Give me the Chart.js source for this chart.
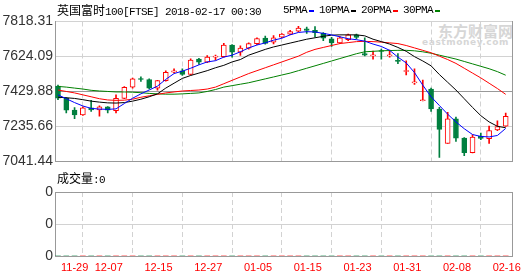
<!DOCTYPE html>
<html>
<head>
<meta charset="utf-8">
<script src="https://cdn.jsdelivr.net/npm/chart.js@4.4.1/dist/chart.umd.min.js"></script>
<style>
  body { margin: 0; background: #fff; }
  #wrap { position: relative; width: 530px; height: 276px; overflow: hidden; font-family: "Noto Sans CJK SC", sans-serif; color: #000; }
  canvas { position: absolute; left: 0; }
  #main { top: 0; }
  #vol { top: 180px; }
  .txt { position: absolute; font-size: 12px; line-height: 14px; white-space: nowrap; }
  .mono { font-family: "Liberation Mono", monospace; font-size: 11px; letter-spacing: -0.6px; }
  .key { position: absolute; top: 10px; width: 5px; height: 2px; }
  #wm1 { position: absolute; left: 438px; top: 20px; font-size: 15px; font-weight: bold; color: #d6d6d6; }
  #wm2 { position: absolute; left: 422px; top: 37px; font: bold 9px "DejaVu Sans", sans-serif; color: #d6d6d6; letter-spacing: 0.6px; }
</style>
</head>
<body>
<div id="wrap">
  <div id="wm1">东方财富网</div>
  <div id="wm2">eastmoney.com</div>
  <canvas id="main" width="530" height="172"></canvas>
  <canvas id="vol" width="530" height="96"></canvas>
  <div class="txt" style="left:57px;top:3px">英国富时<span class="mono">100[FTSE] 2018-02-17 00:30</span></div>
  <div id="legend"></div>
  <div class="txt" style="left:57px;top:171px">成交量<span class="mono">:0</span></div>
</div>
<script>
// trading days shown on the chart
const dates = ["11-29","11-30","12-01","12-04","12-05","12-06","12-07","12-08","12-11","12-12",
  "12-13","12-14","12-15","12-18","12-19","12-20","12-21","12-22","12-27","12-28",
  "12-29","01-02","01-03","01-04","01-05","01-08","01-09","01-10","01-11","01-12",
  "01-15","01-16","01-17","01-18","01-19","01-22","01-23","01-24","01-25","01-26",
  "01-29","01-30","01-31","02-01","02-02","02-05","02-06","02-07","02-08","02-09",
  "02-12","02-13","02-14","02-15","02-16"];

const opens = [7460,7393.6,7326.7,7300.5,7339,7327.5,7345,7324,7392,7453.5,
  7502,7496.5,7448.1,7490.6,7537,7544.1,7525.2,7610,7592.7,7620.7,
  7622.9,7687.8,7648.1,7671.1,7695.9,7726,7703,7731,7748.5,7765,
  7778,7769,7753,7722,7700,7718,7744,7640,7628,7656,
  7628,7603,7541,7478,7379,7444,7333,7142,7279,7172,
  7091,7183,7169,7217,7238];
const highs = [7466,7396,7341,7345,7381,7351,7347,7412,7458,7505,
  7512,7500,7492,7545,7556,7556,7612,7614,7630,7632,
  7697,7690,7684,7700,7728,7738,7740,7752,7770,7792,
  7787,7790,7757,7730,7735,7748,7748,7728,7654,7665,
  7660,7640,7600,7556,7494,7449,7342,7315,7288,7175,
  7190,7199,7238,7267,7310];
const lows = [7385,7312,7280,7297,7320,7293,7312,7312,7390,7448,
  7486,7444,7438,7488,7533,7520,7522,7581,7590,7604,
  7620,7620,7630,7665,7690,7692,7694,7728,7745,7760,
  7752,7733,7712,7680,7695,7712,7722,7628,7610,7610,
  7620,7585,7522,7470,7378,7320,7064,7142,7154,7074,
  7090,7163,7142,7213,7236];
const closes = [7393.6,7326.7,7300.5,7339,7327.5,7345,7327,7392,7453.5,7500.4,
  7496.5,7448.1,7490.6,7537,7544.1,7525.2,7604,7592.7,7620.7,7622.9,
  7687.8,7648.1,7671.1,7695.9,7724.2,7696.5,7728,7748.5,7762.9,7782,
  7769.1,7756,7726,7700,7728,7744,7730,7632,7632,7652,
  7633,7597,7546,7483,7383,7333,7220,7279,7172,7091,
  7177,7170,7213,7235,7292];

// moving averages as drawn
const ma5 = [7411.6,7390.2,7368.7,7349.9,7336.5,7332.8,7331.1,7333.8,7363.3,7392.8,
  7417.0,7438.4,7459.9,7497.4,7529.6,7543.0,7559.1,7577.9,7594.0,7601.0,
  7620.8,7631.6,7650.3,7671.8,7687.9,7699.7,7714.7,7725.4,7744.2,7757.6,
  7761.9,7760.3,7752.3,7744.2,7733.5,7722.8,7717.4,7709.3,7693.2,7679.8,
  7658.4,7620.8,7588.6,7535.0,7465.2,7400.9,7352.6,7304.3,7261.4,7223.8,
  7191.6,7180.9,7178.2,7186.3,7225.4];
const ma10 = [7398.2,7395.5,7391.7,7384.8,7376.7,7371.3,7367.1,7366.0,7368.7,7376.7,
  7387.4,7400.9,7417.0,7449.1,7476.0,7502.8,7518.9,7532.3,7545.7,7561.8,
  7575.2,7594.0,7607.4,7631.6,7647.6,7663.7,7677.2,7687.9,7698.6,7709.3,
  7720.1,7728.1,7736.2,7742.6,7744.2,7744.2,7744.2,7738.9,7720.1,7706.7,
  7693.2,7674.5,7653.0,7623.5,7599.4,7572.5,7524.3,7481.3,7438.4,7390.1,
  7341.8,7296.2,7261.4,7237.2,7229.2];
const ma20 = [7438.4,7430.4,7422.3,7411.6,7400.9,7390.1,7383.2,7381.0,7382.1,7387.4,
  7398.2,7406.2,7414.3,7422.3,7427.7,7433.0,7435.7,7438.4,7443.8,7454.5,
  7473.3,7492.1,7510.8,7529.6,7545.7,7561.8,7577.9,7594.0,7610.1,7626.2,
  7647.6,7663.7,7674.5,7685.2,7695.9,7701.3,7706.7,7708.3,7706.7,7704.0,
  7699.7,7695.9,7685.2,7671.8,7658.4,7645.0,7626.2,7607.4,7585.9,7559.1,
  7532.3,7505.5,7476.0,7446.5,7414.3];
const ma30 = [7458.3,7454.5,7449.1,7443.8,7436.8,7433.0,7430.4,7427.7,7427.7,7426.1,
  7423.4,7419.6,7417.0,7415.3,7415.3,7417.0,7419.6,7422.3,7430.4,7441.1,
  7454.5,7462.6,7470.6,7478.6,7489.4,7500.1,7510.8,7521.6,7532.3,7545.7,
  7559.1,7572.5,7585.9,7599.4,7612.8,7626.2,7639.6,7650.3,7653.0,7655.7,
  7657.3,7658.4,7658.4,7655.7,7650.3,7642.3,7631.6,7620.8,7610.1,7596.7,
  7583.3,7569.9,7556.4,7540.3,7520.5];

const volumes = [0,0,0,0,0,0,0,0,0,0, 0,0,0,0,0,0,0,0,0,0, 0,0,0,0,0,0,0,0,0,0,
  0,0,0,0,0,0,0,0,0,0, 0,0,0,0,0,0,0,0,0,0, 0,0,0,0,0];

const yTicks = [7041.44,7138.55,7235.66,7332.77,7429.88,7526.98,7624.09,7721.20,7818.31];
const volTicks = ["0","0","0","0","0"];
const tickIdx = [0,6,12,18,24,30,36,42,48,54];

const maNames = ["5PMA","10PMA","20PMA","30PMA"];
const maColors = ["#0000ff","#000000","#ff0000","#008000"];

const RED = "#ff0000";
const GREEN = "#007f3f";
const GRID = "#d2d2d2";
const FRAME = "#999999";
const X_MIN = -0.36, X_MAX = 54.76;

const $ = (id) => document.getElementById(id);

// legend row at the top
const legend = $("legend");
let lx = 283;
maNames.forEach((name, i) => {
  const t = document.createElement("div");
  t.className = "txt mono";
  t.style.left = lx + "px";
  t.style.top = "3px";
  t.textContent = name;
  legend.appendChild(t);
  lx += name.length * 6 + 2;
  const k = document.createElement("div");
  k.className = "key";
  k.style.left = lx + "px";
  k.style.background = maColors[i];
  legend.appendChild(k);
  lx += 10;
});

const up = opens.map((o, i) => closes[i] >= o);
const candleColor = up.map(u => u ? RED : GREEN);
const pts = (arr) => arr.map((v, i) => ({ x: i, y: v }));

const maLine = (data, color) => ({
  type: "line",
  data: pts(data),
  borderColor: color,
  borderWidth: 1,
  pointRadius: 0,
  tension: 0
});

const xGrid = (s) => { s.ticks = tickIdx.map(v => ({ value: v })); };

const rightFrame = {
  position: "right",
  ticks: { display: false },
  grid: { display: false, drawTicks: false },
  border: { color: FRAME },
  afterFit: (s) => { s.width = 0; }
};

// =========================
// PRICE CHART
// =========================
new Chart($("main"), {
  type: "bar",
  data: {
    datasets: [
      maLine(ma5, maColors[0]),
      maLine(ma10, maColors[1]),
      maLine(ma20, maColors[2]),
      maLine(ma30, maColors[3]),
      {
        data: opens.map((o, i) => ({ x: i, y: [o, closes[i]] })),
        backgroundColor: up.map(u => u ? "#ffffff" : GREEN),
        borderColor: candleColor,
        borderWidth: 1,
        borderSkipped: false,
        barThickness: 5,
        minBarLength: 1,
        grouped: false
      },
      {
        data: lows.map((l, i) => ({ x: i, y: [l, highs[i]] })),
        backgroundColor: candleColor,
        borderWidth: 0,
        barThickness: 1,
        grouped: false
      }
    ]
  },
  options: {
    responsive: false,
    animation: false,
    devicePixelRatio: 1,
    layout: { padding: { top: 21.5, right: 18, bottom: 6, left: 0 } },
    plugins: { legend: { display: false }, tooltip: { enabled: false } },
    scales: {
      x: {
        type: "linear", min: X_MIN, max: X_MAX, offset: false,
        afterBuildTicks: xGrid,
        ticks: { display: false },
        grid: { color: GRID, drawTicks: false },
        border: { color: FRAME, dash: [5, 3] }
      },
      y: {
        min: yTicks[0], max: yTicks[yTicks.length - 1],
        afterBuildTicks: (s) => { s.ticks = yTicks.map(v => ({ value: v })); },
        ticks: {
          callback: (v) => v.toFixed(2),
          color: "#333",
          font: { family: "Liberation Sans", size: 14 },
          padding: 2
        },
        grid: { drawTicks: false, color: (c) => c.index === 4 ? FRAME : GRID },
        border: { color: FRAME },
        afterFit: (s) => { s.width = 55; }
      },
      yr: rightFrame
    }
  }
});

// =========================
// VOLUME CHART
// =========================
const firstLabelInside = {
  id: "firstLabelInside",
  beforeDraw: (chart) => {
    const items = chart.scales.x.getLabelItems();
    if (items.length) {
      items[0].options.textAlign = "left";
      items[0].options.translation[0] += 2;
    }
  }
};

new Chart($("vol"), {
  type: "bar",
  data: {
    datasets: [{
      data: pts(volumes),
      backgroundColor: candleColor,
      barThickness: 5,
      grouped: false
    }]
  },
  options: {
    responsive: false,
    animation: false,
    devicePixelRatio: 1,
    layout: { padding: { top: 12, right: 18, bottom: 0, left: 0 } },
    plugins: { legend: { display: false }, tooltip: { enabled: false } },
    scales: {
      x: {
        type: "linear", min: X_MIN, max: X_MAX, offset: false,
        afterBuildTicks: xGrid,
        ticks: {
          callback: (v) => dates[v],
          color: RED,
          font: { family: "Liberation Sans", size: 11 },
          padding: 5,
          labelOffset: 1,
          maxRotation: 0,
          autoSkip: false
        },
        grid: { color: GRID, drawTicks: false },
        border: { color: FRAME, dash: [5, 3] },
        afterFit: (s) => { s.height = 20; }
      },
      y: {
        min: 0, max: volTicks.length - 1,
        afterBuildTicks: (s) => { s.ticks = volTicks.map((t, i) => ({ value: i })); },
        ticks: {
          callback: (v, i) => volTicks[i],
          color: "#333",
          font: { family: "Liberation Sans", size: 14 },
          padding: 2
        },
        grid: { drawTicks: false, color: (c) => c.index === volTicks.length - 1 ? FRAME : GRID },
        border: { color: FRAME },
        afterFit: (s) => { s.width = 55; }
      },
      yr: rightFrame
    }
  },
  plugins: [firstLabelInside]
});
</script>
</body>
</html>
